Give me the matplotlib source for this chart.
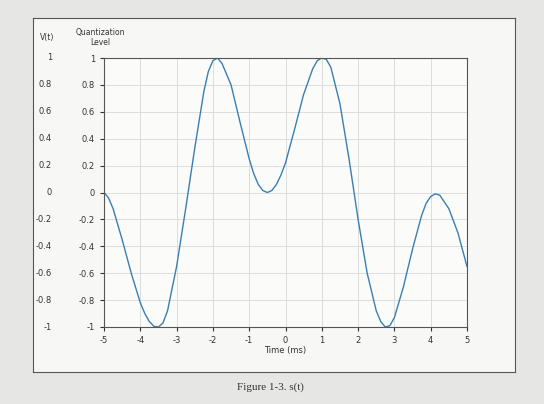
import matplotlib.pyplot as plt

plt.rcParams['axes.unicode_minus'] = False

# values
t = [-5, -4.875, -4.75, -4.5, -4.25, -4, -3.875, -3.75, -3.625, -3.5, -3.375, -3.25,
     -3, -2.75, -2.5, -2.25, -2.125, -2, -1.875, -1.75, -1.5, -1.25, -1, -0.875,
     -0.75, -0.625, -0.5, -0.375, -0.25, -0.125, 0, 0.25, 0.5, 0.75, 0.875, 1,
     1.125, 1.25, 1.5, 1.75, 2, 2.25, 2.5, 2.625, 2.75, 2.875, 3, 3.25, 3.5, 3.75,
     3.875, 4, 4.125, 4.25, 4.5, 4.75, 5]
s = [0, -0.04, -0.12, -0.35, -0.6, -0.82, -0.9, -0.96, -0.995, -1.0, -0.97, -0.88,
     -0.55, -0.12, 0.33, 0.75, 0.9, 0.98, 1.0, 0.96, 0.8, 0.52, 0.25, 0.14,
     0.06, 0.015, 0.0, 0.015, 0.06, 0.13, 0.22, 0.47, 0.73, 0.92, 0.98, 1.0,
     0.99, 0.93, 0.66, 0.25, -0.2, -0.6, -0.88, -0.96, -1.0, -0.99, -0.93, -0.7,
     -0.42, -0.17, -0.08, -0.03, -0.01, -0.02, -0.12, -0.3, -0.55]
yticks = [1, 0.8, 0.6, 0.4, 0.2, 0, -0.2, -0.4, -0.6, -0.8, -1]
xticks = [-5, -4, -3, -2, -1, 0, 1, 2, 3, 4, 5]

fig = plt.figure(figsize=(5.44, 4.04), dpi=100)
fig.patch.set_facecolor('#e6e6e4')

# outer frame
bg = fig.add_axes([33/544, 1 - 372/404, 482/544, 354/404])
bg.set_facecolor('#f7f7f5')
bg.set_xticks([])
bg.set_yticks([])
for sp in bg.spines.values():
    sp.set_color('#555555')

ax = fig.add_axes([104/544, 1 - 327/404, 363/544, 269/404])
ax.set_facecolor('#fbfbfa')
ax.plot(t, s, color='#3a7fb0', lw=1)
ax.set_xlim(-5, 5)
ax.set_ylim(-1, 1)
ax.set_xticks(xticks)
ax.set_yticks(yticks)
ax.set_yticklabels([f'{v:g}' for v in yticks])
ax.tick_params(labelsize=6, colors='#333333', length=3)
ax.grid(True, color='#dddddd', lw=0.7)
for sp in ax.spines.values():
    sp.set_color('#555555')
ax.set_xlabel('Time (ms)', fontsize=6, labelpad=1, color='#333333')

for v in yticks:
    y = ax.transData.transform((0, v))[1]
    fig.text(52/544, y / fig.dpi / 4.04, f'{v:g}', fontsize=6, ha='right', va='center', color='#333333')
fig.text(47/544, 1 - 40/404, 'V(t)', fontsize=5.5, ha='center', color='#333333')
fig.text(100/544, 1 - 35/404, 'Quantization', fontsize=5.5, ha='center', color='#333333')
fig.text(100/544, 1 - 45/404, 'Level', fontsize=5.5, ha='center', color='#333333')
fig.text(270/544, 1 - 390/404, 'Figure 1-3. s(t)', fontsize=8, ha='center',
         family='Liberation Serif', color='#333333')

fig.savefig('out.png', dpi=100, facecolor=fig.get_facecolor())
